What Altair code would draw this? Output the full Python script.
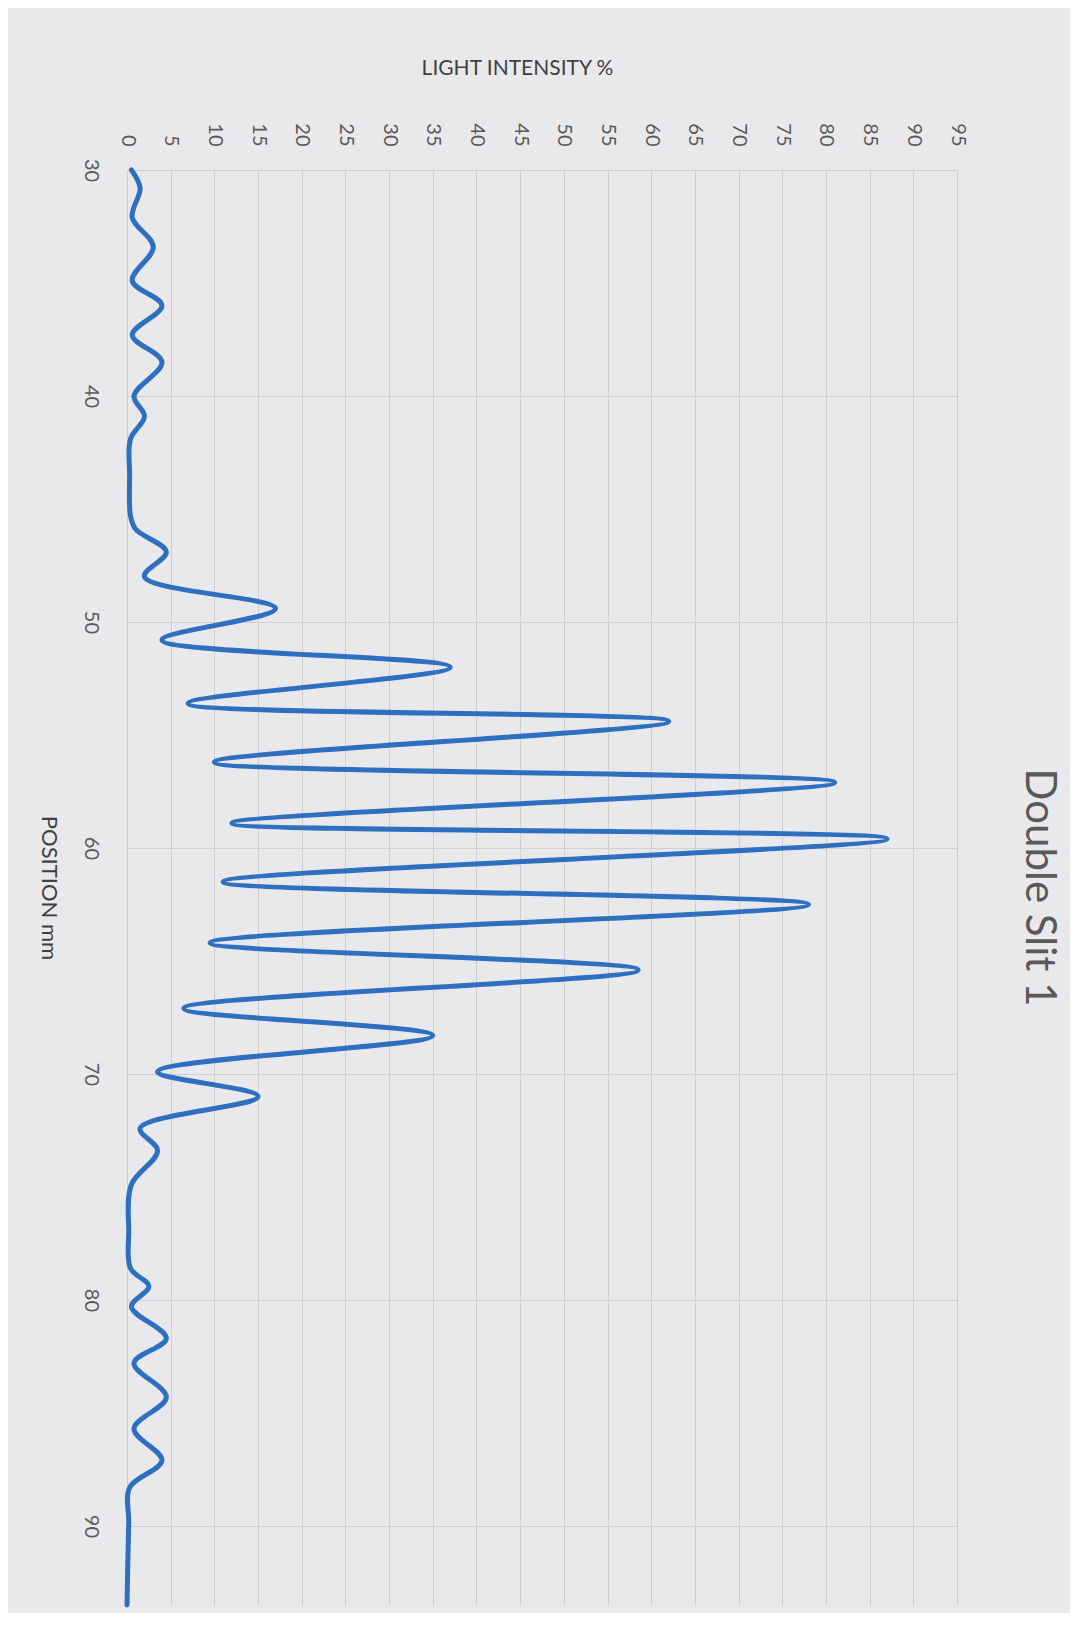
import altair as alt
import pandas as pd

position_mm = [30.0, 30.8, 32.1, 33.4, 34.9, 36.0, 37.3, 38.5, 40.0, 40.9,
               41.9, 43.5, 45.3, 45.9, 46.9, 48.0, 49.4, 50.8, 52.0, 53.6,
               54.4, 56.2, 57.1, 58.9, 59.6, 61.5, 62.5, 64.2, 65.4, 67.1,
               68.3, 69.9, 71.0, 72.4, 73.4, 74.9, 77.0, 78.6, 79.4, 80.3,
               81.7, 82.8, 84.3, 85.7, 87.1, 88.3, 89.8, 91.5, 93.5]
intensity_pct = [0.5, 1.5, 0.6, 3.0, 0.6, 4.0, 0.6, 4.0, 0.8, 2.0,
                 0.4, 0.3, 0.4, 1.0, 4.5, 2.0, 17.0, 4.0, 37.0, 7.0,
                 62.0, 10.0, 81.0, 12.0, 87.0, 11.0, 78.0, 9.5, 58.5, 6.5,
                 35.0, 3.5, 15.0, 1.5, 3.5, 0.5, 0.2, 0.4, 2.5, 0.5,
                 4.5, 0.8, 4.5, 0.8, 4.0, 0.3, 0.2, 0.1, 0.0]

intensity_ticks = list(range(0, 100, 5))
position_ticks = list(range(30, 100, 10))

df = pd.DataFrame({
    "position": position_mm,
    "intensity": intensity_pct,
    "idx": list(range(len(position_mm))),
})

FONT = "Lato"
LABEL_COLOR = "#595959"

chart = alt.Chart(df).mark_line(
    color="#2e6fbf", strokeWidth=5, interpolate="catmull-rom",
    strokeCap="round", strokeJoin="round"
).encode(
    x=alt.X("intensity:Q",
            scale=alt.Scale(domain=[0, 95], nice=False, zero=False),
            axis=alt.Axis(orient="top", values=intensity_ticks, labelAngle=90,
                          title="LIGHT INTENSITY %", titleFontSize=21,
                          titleColor="#3f3f3f", titleFontWeight="normal",
                          titleFont=FONT, titlePadding=44, titleX=390,
                          labelFont=FONT, labelFontSize=20, labelColor=LABEL_COLOR,
                          labelPadding=24, ticks=False, domain=False,
                          grid=True, gridColor="#cfcfcf", gridWidth=1)),
    y=alt.Y("position:Q",
            scale=alt.Scale(domain=[30, 93.5], reverse=True, nice=False, zero=False),
            axis=alt.Axis(orient="left", values=position_ticks, labelAngle=90,
                          title="POSITION mm", titleAngle=90, titleBaseline="top",
                          titleFontSize=22, titleColor="#3f3f3f",
                          titleFontWeight="normal", titleFont=FONT, titlePadding=22,
                          labelFont=FONT, labelFontSize=20, labelColor=LABEL_COLOR,
                          labelPadding=27, ticks=False, domain=False,
                          grid=True, gridColor="#cfcfcf", gridWidth=1)),
    order=alt.Order("idx:Q"),
).properties(
    width=830,
    height=1435,
    background="#e9e9eb",
    padding={"left": 29, "top": 49, "right": 10, "bottom": 5},
    title=alt.TitleParams("Double Slit 1", orient="right", angle=90,
                          fontSize=42, font=FONT, fontWeight="normal",
                          color="#595959", offset=50, anchor="middle"),
).configure_view(strokeWidth=0)

chart.save("out.html", embed_options={"renderer": "svg", "actions": False})
